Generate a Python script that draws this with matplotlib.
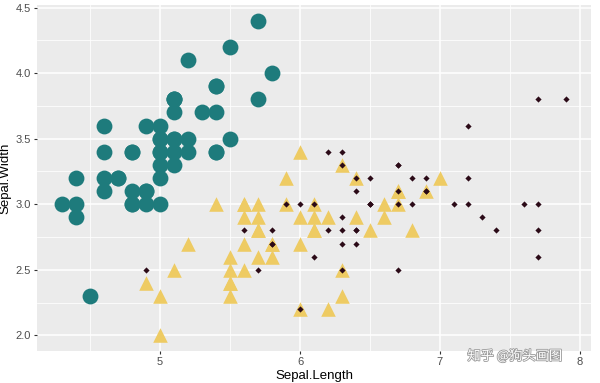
import matplotlib
matplotlib.use("Agg")
import matplotlib.pyplot as plt
import matplotlib.patheffects as pe
from matplotlib.ticker import MultipleLocator

setosa_len = [5.1,4.9,4.7,4.6,5.0,5.4,4.6,5.0,4.4,4.9,5.4,4.8,4.8,4.3,5.8,5.7,5.4,5.1,5.7,5.1,
              5.4,5.1,4.6,5.1,4.8,5.0,5.0,5.2,5.2,4.7,4.8,5.4,5.2,5.5,4.9,5.0,5.5,4.9,4.4,5.1,
              5.0,4.5,4.4,5.0,5.1,4.8,5.1,4.6,5.3,5.0]
setosa_wid = [3.5,3.0,3.2,3.1,3.6,3.9,3.4,3.4,2.9,3.1,3.7,3.4,3.0,3.0,4.0,4.4,3.9,3.5,3.8,3.8,
              3.4,3.7,3.6,3.3,3.4,3.0,3.4,3.5,3.4,3.2,3.1,3.4,4.1,4.2,3.1,3.2,3.5,3.6,3.0,3.4,
              3.5,2.3,3.2,3.5,3.8,3.0,3.8,3.2,3.7,3.3]
versi_len = [7.0,6.4,6.9,5.5,6.5,5.7,6.3,4.9,6.6,5.2,5.0,5.9,6.0,6.1,5.6,6.7,5.6,5.8,6.2,5.6,
             5.9,6.1,6.3,6.1,6.4,6.6,6.8,6.7,6.0,5.7,5.5,5.5,5.8,6.0,5.4,6.0,6.7,6.3,5.6,5.5,
             5.5,6.1,5.8,5.0,5.6,5.7,5.7,6.2,5.1,5.7]
versi_wid = [3.2,3.2,3.1,2.3,2.8,2.8,3.3,2.4,2.9,2.7,2.0,3.0,2.2,2.9,2.9,3.1,3.0,2.7,2.2,2.5,
             3.2,2.8,2.5,2.8,2.9,3.0,2.8,3.0,2.9,2.6,2.4,2.4,2.7,2.7,3.0,3.4,3.1,2.3,3.0,2.5,
             2.6,3.0,2.6,2.3,2.7,3.0,2.9,2.9,2.5,2.8]
virg_len = [6.3,5.8,7.1,6.3,6.5,7.6,4.9,7.3,6.7,7.2,6.5,6.4,6.8,5.7,5.8,6.4,6.5,7.7,7.7,6.0,
            6.9,5.6,7.7,6.3,6.7,7.2,6.2,6.1,6.4,7.2,7.4,7.9,6.4,6.3,6.1,7.7,6.3,6.4,6.0,6.9,
            6.7,6.9,5.8,6.8,6.7,6.7,6.3,6.5,6.2,5.9]
virg_wid = [3.3,2.7,3.0,2.9,3.0,3.0,2.5,2.9,2.5,3.6,3.2,2.7,3.0,2.5,2.8,3.2,3.0,3.8,2.6,2.2,
            3.2,2.8,2.8,2.7,3.3,3.2,2.8,3.0,2.8,3.0,2.8,3.8,2.8,2.8,2.6,3.0,3.4,3.1,3.0,3.1,
            3.1,3.1,2.7,3.2,3.3,3.0,2.5,3.0,3.4,3.0]

x_label = "Sepal.Length"
y_label = "Sepal.Width"
watermark = "知乎 @狗头画图"

plt.rcParams['font.family'] = ['Liberation Sans', 'DejaVu Sans']

fig = plt.figure(figsize=(6.0, 3.83), dpi=100)
ax = fig.add_axes([37/600, 1-351/383, (591-37)/600, (351-5)/383])
ax.set_facecolor('#EBEBEB')
for s in ax.spines.values():
    s.set_visible(False)

ax.set_xlim(4.12, 8.08)
ax.set_ylim(1.88, 4.52)
ax.xaxis.set_major_locator(MultipleLocator(1))
ax.xaxis.set_minor_locator(MultipleLocator(0.5))
ax.yaxis.set_major_locator(MultipleLocator(0.5))
ax.yaxis.set_minor_locator(MultipleLocator(0.25))
ax.grid(which='major', color='white', lw=1.1)
ax.grid(which='minor', color='white', lw=0.55)
ax.set_axisbelow(True)
ax.tick_params(which='major', length=2.5, width=0.8, color='#333333', labelsize=8, labelcolor='#4D4D4D', pad=2)
ax.tick_params(which='minor', length=0)
ax.set_yticks([2.0, 2.5, 3.0, 3.5, 4.0, 4.5])
ax.set_yticklabels(['2.0', '2.5', '3.0', '3.5', '4.0', '4.5'])

ax.scatter(setosa_len, setosa_wid, s=130, marker='o', color='#1E7B7C', linewidths=0, zorder=3)
ax.scatter(versi_len, versi_wid, s=110, marker='^', color='#EECB63', linewidths=0, zorder=3)
ax.scatter(virg_len, virg_wid, s=10, marker='D', color='#2B0A17', linewidths=0, zorder=4)

ax.set_xlabel(x_label, fontsize=9.5, color='black', labelpad=2)
ax.set_ylabel(y_label, fontsize=9.5, color='black', labelpad=3)

fig.text(515/600, 1-356/383, watermark, fontsize=9.5, color='white', ha='center', va='center',
         family=['Noto Sans CJK SC', 'DejaVu Sans'],
         path_effects=[pe.withStroke(linewidth=1.2, foreground='#9A9A9A')], zorder=10)

fig.savefig('out.png', dpi=100)
